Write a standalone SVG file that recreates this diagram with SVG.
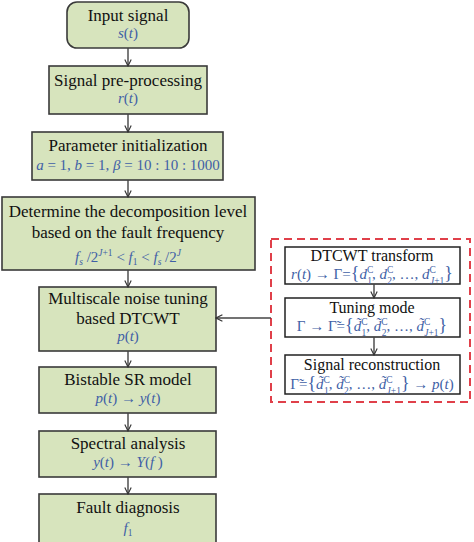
<svg xmlns="http://www.w3.org/2000/svg" width="474" height="542" viewBox="0 0 474 542">
<defs>
<marker id="ah" viewBox="0 0 10 10" refX="9" refY="5" markerWidth="8" markerHeight="8" markerUnits="userSpaceOnUse" orient="auto">
<path d="M1,1 L9,5 L1,9" fill="none" stroke="#333" stroke-width="1.4"/>
</marker>
<style>
text{font-family:"Liberation Serif",Tinos,"Noto Serif","Nimbus Roman","FreeSerif",Times,"DejaVu Serif",serif}
.box{fill:#d7e4bd;stroke:#3a3a3a;stroke-width:1.6}
.wb{fill:#fff;stroke:#222;stroke-width:1.5}
.t{font-size:17px;fill:#111;text-anchor:middle}
.ti{font-size:16px;fill:#111;text-anchor:middle}
.m{font-size:15px;fill:#3f5fa6;text-anchor:middle}
.i{font-style:italic}
.s{font-size:9.5px}
.br{font-size:18px}
.c{fill:none;stroke:#444;stroke-width:1.4;marker-end:url(#ah)}
</style>
</defs>
<rect width="474" height="542" fill="#fff"/>
<g id="n1">
<rect class="box" x="67" y="2" width="122" height="46" rx="10"/>
<text class="t" x="128" y="21">Input signal</text>
<text class="m" x="128" y="38"><tspan class="i">s</tspan>(<tspan class="i">t</tspan>)</text>
</g>
<g id="n2">
<rect class="box" x="49" y="66" width="158" height="48"/>
<text class="t" x="128" y="86">Signal pre-processing</text>
<text class="m" x="128" y="103"><tspan class="i">r</tspan>(<tspan class="i">t</tspan>)</text>
</g>
<g id="n3">
<rect class="box" x="32" y="132" width="191" height="48"/>
<text class="t" x="128" y="151">Parameter initialization</text>
<text class="m" x="128" y="170"><tspan class="i">a</tspan> = 1, <tspan class="i">b</tspan> = 1, <tspan class="i">β</tspan> = 10 : 10 : 1000</text>
</g>
<g id="n4">
<rect class="box" x="2" y="197" width="253" height="73"/>
<text class="t" x="128" y="217">Determine the decomposition level</text>
<text class="t" x="128" y="238">based on the fault frequency</text>
<text class="m" x="128" y="262"><tspan class="i">f</tspan><tspan class="s i" dy="3">s</tspan><tspan dy="-3"> /</tspan><tspan>2</tspan><tspan class="s i" dy="-6">J</tspan><tspan class="s">+1</tspan><tspan dy="6"> &lt; </tspan><tspan class="i">f</tspan><tspan class="s" dy="3">1</tspan><tspan dy="-3"> &lt; </tspan><tspan class="i">f</tspan><tspan class="s i" dy="3">s</tspan><tspan dy="-3"> /</tspan><tspan>2</tspan><tspan class="s i" dy="-6">J</tspan></text>
</g>
<g id="n5">
<rect class="box" x="39" y="287" width="177" height="64"/>
<text class="t" x="128" y="304">Multiscale noise tuning</text>
<text class="t" x="128" y="324">based DTCWT</text>
<text class="m" x="128" y="341"><tspan class="i">p</tspan>(<tspan class="i">t</tspan>)</text>
</g>
<g id="n6">
<rect class="box" x="39" y="367" width="177" height="46"/>
<text class="t" x="128" y="385">Bistable SR model</text>
<text class="m" x="128" y="403"><tspan class="i">p</tspan>(<tspan class="i">t</tspan>) → <tspan class="i">y</tspan>(<tspan class="i">t</tspan>)</text>
</g>
<g id="n7">
<rect class="box" x="39" y="431" width="177" height="46"/>
<text class="t" x="128" y="449">Spectral analysis</text>
<text class="m" x="128" y="467"><tspan class="i">y</tspan>(<tspan class="i">t</tspan>) → <tspan class="i">Y</tspan>(<tspan class="i">f</tspan> )</text>
</g>
<g id="n8">
<rect class="box" x="39" y="494" width="177" height="49"/>
<text class="t" x="128" y="513">Fault diagnosis</text>
<text class="m" x="128" y="533"><tspan class="i">f</tspan><tspan class="s" dy="3">1</tspan></text>
</g>
<g id="group">
<rect x="271" y="239" width="199" height="163" fill="none" stroke="#e0404a" stroke-width="2" stroke-dasharray="8,5"/>
</g>
<g id="r1">
<rect class="wb" x="285" y="247" width="175" height="37"/>
<text class="ti" x="372" y="261">DTCWT transform</text>
<text class="m" x="372" y="279"><tspan class="i">r</tspan>(<tspan class="i">t</tspan>) → Γ=<tspan class="br">{</tspan><tspan class="i">d</tspan><tspan class="s" dy="-6.5">C</tspan><tspan class="s" dx="-6" dy="11">1</tspan><tspan dy="-4.5">, </tspan><tspan class="i">d</tspan><tspan class="s" dy="-6.5">C</tspan><tspan class="s" dx="-6" dy="11">2</tspan><tspan dy="-4.5">, …, </tspan><tspan class="i">d</tspan><tspan class="s" dy="-6.5">C</tspan><tspan class="s i" dx="-6" dy="11">J</tspan><tspan class="s">+1</tspan><tspan class="br" dy="-4.5">}</tspan></text>
</g>
<g id="r2">
<rect class="wb" x="285" y="298" width="175" height="39"/>
<text class="ti" x="372" y="313">Tuning mode</text>
<text class="m" x="372" y="331">Γ → Γ̃=<tspan class="br">{</tspan><tspan class="i">d̃</tspan><tspan class="s" dy="-6.5">C</tspan><tspan class="s" dx="-6" dy="11">1</tspan><tspan dy="-4.5">, </tspan><tspan class="i">d̃</tspan><tspan class="s" dy="-6.5">C</tspan><tspan class="s" dx="-6" dy="11">2</tspan><tspan dy="-4.5">, …, </tspan><tspan class="i">d̃</tspan><tspan class="s" dy="-6.5">C</tspan><tspan class="s i" dx="-6" dy="11">J</tspan><tspan class="s">+1</tspan><tspan class="br" dy="-4.5">}</tspan></text>
</g>
<g id="r3">
<rect class="wb" x="285" y="355" width="175" height="39"/>
<text class="ti" x="372" y="370">Signal reconstruction</text>
<text class="m" x="372" y="389">Γ̃=<tspan class="br">{</tspan><tspan class="i">d̃</tspan><tspan class="s" dy="-6.5">C</tspan><tspan class="s" dx="-6" dy="11">1</tspan><tspan dy="-4.5">, </tspan><tspan class="i">d̃</tspan><tspan class="s" dy="-6.5">C</tspan><tspan class="s" dx="-6" dy="11">2</tspan><tspan dy="-4.5">, …, </tspan><tspan class="i">d̃</tspan><tspan class="s" dy="-6.5">C</tspan><tspan class="s i" dx="-6" dy="11">J</tspan><tspan class="s">+1</tspan><tspan class="br" dy="-4.5">}</tspan><tspan> → </tspan><tspan class="i">p</tspan>(<tspan class="i">t</tspan>)</text>
</g>
<g id="connectors">
<line class="c" x1="128" y1="48" x2="128" y2="66"/>
<line class="c" x1="128" y1="114" x2="128" y2="132"/>
<line class="c" x1="128" y1="180" x2="128" y2="197"/>
<line class="c" x1="128" y1="270" x2="128" y2="287"/>
<line class="c" x1="128" y1="351" x2="128" y2="367"/>
<line class="c" x1="128" y1="413" x2="128" y2="431"/>
<line class="c" x1="128" y1="477" x2="128" y2="494"/>
<line class="c" x1="271" y1="318" x2="216" y2="318"/>
<line class="c" x1="374" y1="284" x2="374" y2="298"/>
<line class="c" x1="374" y1="337" x2="374" y2="355"/>
</g>
</svg>
